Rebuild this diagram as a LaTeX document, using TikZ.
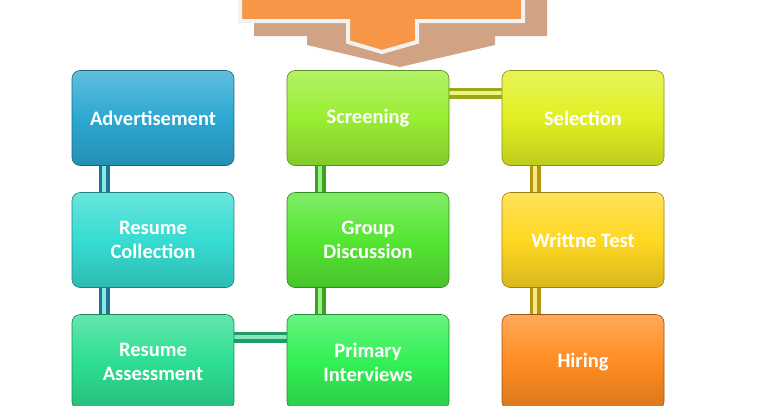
\documentclass[tikz,border=0pt]{standalone}
\usepackage{fontspec}
\setmainfont{Carlito}
\begin{document}
\begin{tikzpicture}[x=1pt,y=-1pt,
  box/.style={rounded corners=8pt,minimum width=162pt,minimum height=95pt,inner sep=0pt,
    text=white,font=\bfseries\fontsize{20.5}{24}\selectfont,align=center,draw=#1!60!black,line width=0.6pt,
    top color=#1!75!white,bottom color=#1!85!black,middle color=#1},
  pipe/.style={line width=11pt,draw=#1!70!black},
  pipein/.style={line width=4pt,draw=#1!60!white}]
\useasboundingbox (0,0) rectangle (773,405);
\clip (0,0) rectangle (773,405);
\definecolor{cA}{HTML}{2CA8D2}\definecolor{cB}{HTML}{36DCD2}\definecolor{cC}{HTML}{2EDE92}
\definecolor{cD}{HTML}{99EE33}\definecolor{cE}{HTML}{55E633}\definecolor{cF}{HTML}{33F055}
\definecolor{cG}{HTML}{E0F022}\definecolor{cH}{HTML}{FFD822}\definecolor{cI}{HTML}{FF8C22}
\definecolor{arr}{HTML}{F79646}\definecolor{shad}{HTML}{CFA383}
% arrow shadow
\fill[shad] (254,-5) -- (547,-5) -- (547,36) -- (495,36) -- (495,45) -- (400,67) -- (307,45) -- (307,36) -- (254,36) -- cycle;
\fill[arr,draw=white!95!black,line width=4pt] (240,-5) -- (523,-5) -- (523,21) -- (417,21) -- (417,42) -- (382,52) -- (348,42) -- (348,21) -- (240,21) -- cycle;
% pipes
\coordinate (p1) at (104,118); \coordinate (p2) at (104,362);
\coordinate (p3) at (320,118); \coordinate (p4) at (320,337);
\coordinate (p5) at (153,337);
\coordinate (p6) at (535,118); \coordinate (p7) at (535,362);
\coordinate (p8) at (368,93); \coordinate (p9) at (583,93);
\draw[pipe=cA] (p1) -- (p2); \draw[pipein=cB] (p1) -- (p2);
\draw[pipe=cE] (p3) -- (p4); \draw[pipein=cE] (p3) -- (p4);
\draw[pipe=cC] (p5) -- (p4); \draw[pipein=cC] (p5) -- (p4);
\draw[pipe=cH] (p6) -- (p7); \draw[pipein=cH] (p6) -- (p7);
\draw[pipe=cG] (p8) -- (p9); \draw[pipein=cG] (p8) -- (p9);
% nodes
\node[box=cA] (adv) at (153,118) {Advertisement};
\node[box=cB] (rc) at (153,240) {Resume\\Collection};
\node[box=cC] (ra) at (153,362) {Resume\\Assessment};
\node[box=cD] (scr) at (368,118) {Screening};
\node[box=cE] (gd) at (368,240) {Group\\Discussion};
\node[box=cF] (pi) at (368,362) {Primary\\Interviews};
\node[box=cG] (sel) at (583,118) {Selection};
\node[box=cH] (wt) at (583,240) {Writtne Test};
\node[box=cI] (hir) at (583,362) {Hiring};
\end{tikzpicture}
\end{document}
